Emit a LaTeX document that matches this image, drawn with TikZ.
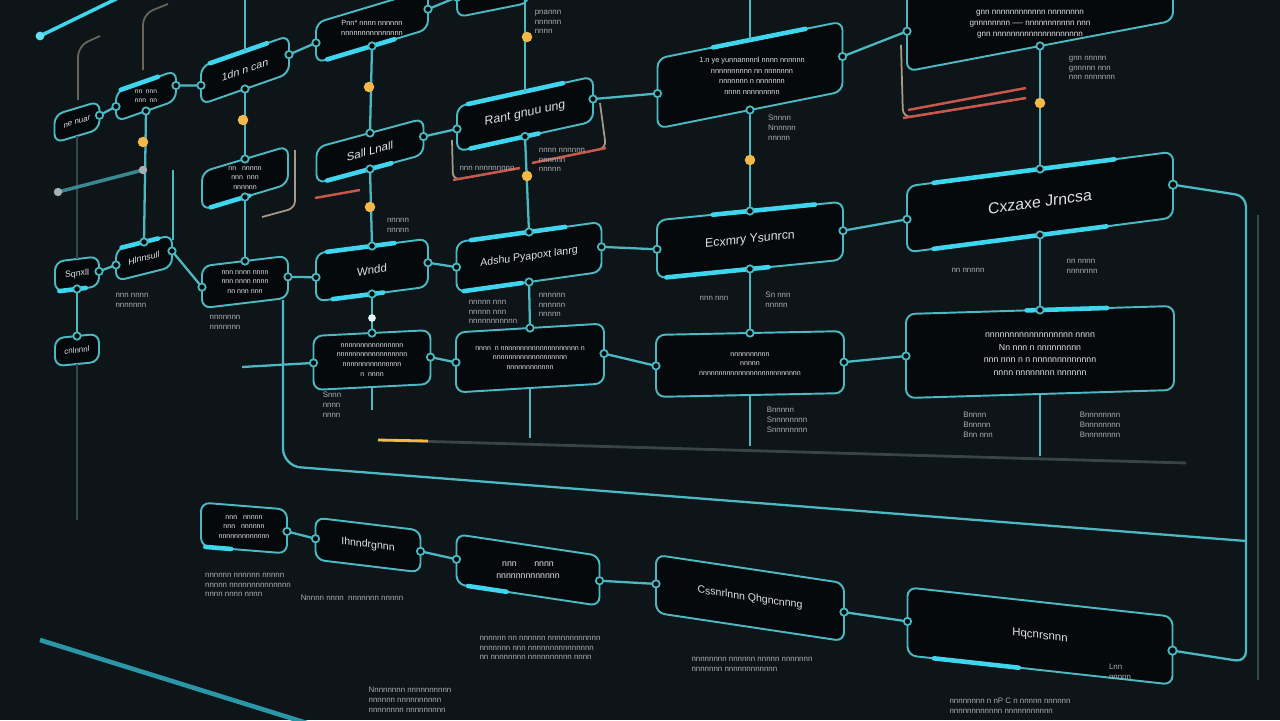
\documentclass[tikz,border=0pt]{standalone}
\usepackage{fontspec}
\setmainfont{Liberation Sans}
\usetikzlibrary{calc}
\definecolor{bgc}{HTML}{0D1518}
\definecolor{boxfill}{HTML}{06090B}
\definecolor{edgec}{HTML}{4CB8C2}
\definecolor{hlc}{HTML}{3ED6EE}
\definecolor{txtc}{HTML}{DCE2E4}
\definecolor{notec}{HTML}{A8B0B3}
\definecolor{orangec}{HTML}{F2B84A}
\definecolor{redc}{HTML}{C8584E}
\definecolor{palec}{HTML}{A89A88}
\definecolor{greyc}{HTML}{3A4448}
\definecolor{dimc}{HTML}{2E4A50}
\tikzset{
  box/.style={draw=edgec, line width=1.1pt, fill=boxfill, rounded corners=5pt,
    outer sep=0pt, inner sep=2pt, text=txtc, align=center},
  boxtext/.style={text=txtc, align=center, inner sep=1pt},
  conn/.style={draw=edgec, line width=1.3pt},
  hl/.style={draw=hlc, line width=2.6pt, line cap=round},
  dotc/.style={draw=edgec, line width=1pt, fill=boxfill},
  note/.style={text=notec, font=\fontsize{4.5}{5.6}\selectfont, align=left, inner sep=1pt},
  redl/.style={draw=redc, line width=1.4pt},
  palel/.style={draw=palec, line width=1pt},
  dimline/.style={draw=dimc, line width=1pt},
}
% box with slanted one-line label
\newcommand\bx[8]{\node[box, minimum width=#4*0.02cm, minimum height=#5*0.02cm, yslant=#6, font=#7] (#1) at (#2,#3) {#8};}
% box with upright multi-line text placed at a given point
\newcommand\bxt[9]{\node[box, minimum width=#4*0.02cm, minimum height=#5*0.02cm, yslant=#6] (#1) at (#2,#3) {};
  \node[boxtext, font=#7] (#1t) at (#8) {#9};}
\newcommand\hlb[4]{\draw[hl] ($(#1.#2 west)!#3!(#1.#2 east)$) -- ($(#1.#2 west)!#4!(#1.#2 east)$);}
\newcommand\cn[2]{\draw[conn] (#1) -- (#2); \draw[dotc] (#1) circle (2.1pt); \draw[dotc] (#2) circle (2.1pt);}
\newcommand\nt[4]{\node[note] (#1) at (#2,#3) {#4};}
\begin{document}
\begin{tikzpicture}[x=0.02cm,y=-0.02cm]
\useasboundingbox (0,0) rectangle (1280,720);
\clip (0,0) rectangle (1280,720);
\fill[bgc] (0,0) rectangle (1280,720);

% ---------- coordinates ----------
\coordinate (top) at (0,0);
\coordinate (R1) at (1246,196);
\coordinate (R2) at (1246,662);
\coordinate (L0) at (283,300);
\coordinate (L1) at (283,466);
\coordinate (L2) at (1246,541);
\coordinate (G0) at (378,440);
\coordinate (G0b) at (428,441);
\coordinate (G1) at (1186,463);
\coordinate (F1) at (1258,215);
\coordinate (F2) at (1258,680);
\coordinate (B1) at (40,640);
\coordinate (B2) at (310,724);
\coordinate (B3) at (40,36);
\coordinate (B4) at (118,-2);

% ---------- long background lines ----------
\draw[draw=greyc, line width=1.6pt] (G0) -- (G1);
\draw[draw=orangec, line width=1.6pt] (G0) -- (G0b);
\draw[conn, rounded corners=10pt] (L0) -- (L1) -- (L2);
\draw[dimline] (F1) -- (F2);
\draw[draw=hlc!70!black, line width=2.6pt] (B1) -- (B2);
\draw[draw=hlc, line width=2pt] (B3) -- (B4);
\fill[hlc!80!white] (B3) circle (2.5pt);

% ---------- boxes: top row ----------
\bx{T1}{77}{122}{45}{28}{0.3}{\fontsize{4.5}{5}\selectfont}{ne nuar}
\bxt{T2}{146}{96}{60}{30}{0.35}{\fontsize{3.8}{5}\selectfont}{146,96}{nn\ \ nnn\\ nnn\ \ nn}
\bx{T3}{245}{70}{88}{38}{0.35}{\fontsize{6}{7}\selectfont}{1dn n can}
\bxt{T4}{372}{26}{112}{40}{0.3}{\fontsize{4.2}{5.6}\selectfont}{372,28}{Pnn* nnnn nnnnnn\\ nnnnnnnnnnnnnnn}
\bx{T5}{493}{-10}{72}{40}{0.2}{\tiny}{}
\bx{T6}{525}{114}{136}{45}{0.22}{\fontsize{7}{8}\selectfont}{Rant gnuu ung}
\bxt{T7}{750}{75}{185}{70}{0.2}{\fontsize{4.2}{6}\selectfont}{752,76}{1.n ye yunnannnnl nnnn nnnnnn\\ nnnnnnnnnn nn nnnnnnn\\ nnnnnnn n nnnnnnn\\ nnnn nnnnnnnnn}
\bxt{T8}{1040}{6}{266}{80}{0.19}{\fontsize{4.6}{6.2}\selectfont}{1030,24}{gnn nnnnnnnnnnnn nnnnnnnn\\ gnnnnnnnn ---- nnnnnnnnnnn nnn\\ gnn nnnnnnnnnnnnnnnnnnnn}
% ---------- second row ----------
\bxt{M1}{245}{178}{86}{38}{0.3}{\fontsize{4}{5.2}\selectfont}{245,178}{nn\ \ \ nnnnn\\ nnn\ \ nnn\\ nnnnnn}
\bx{M2}{370}{151}{107}{36}{0.27}{\fontsize{6.5}{7}\selectfont}{Sall Lnall}
\bx{M3}{1040}{202}{266}{66}{0.13}{\fontsize{9}{10}\selectfont}{Cxzaxe Jrncsa}
\bx{M4}{750}{240}{186}{58}{0.1}{\fontsize{7}{8}\selectfont}{Ecxmry Ysunrcn}
\bx{M5}{529}{257}{145}{50}{0.14}{\fontsize{6}{7}\selectfont}{Adshu Pyapoxt lanrg}
\bx{M6}{372}{270}{112}{48}{0.13}{\fontsize{6.5}{7}\selectfont}{Wndd}
\bxt{M7}{245}{282}{86}{42}{0.12}{\fontsize{4}{5.2}\selectfont}{245,282}{nnn nnnn nnnn\\ nnn nnnn nnnn\\ nn nnn nnn}
\bx{M8}{144}{258}{56}{32}{0.25}{\fontsize{5}{6}\selectfont}{Hlnnsull}
\bx{M9}{77}{274}{44}{30}{0.12}{\fontsize{5}{6}\selectfont}{Sqnxll}
\bx{M10}{77}{350}{44}{28}{0.1}{\fontsize{4.5}{5}\selectfont}{cnlnnnl}
% ---------- third row ----------
\bxt{C1}{372}{360}{117}{54}{0.05}{\fontsize{4}{5.6}\selectfont}{372,360}{nnnnnnnnnnnnnnnn\\ nnnnnnnnnnnnnnnnnn\\ nnnnnnnnnnnnnnn\\ n\ \ nnnn}
\bxt{C2}{530}{358}{148}{60}{0.06}{\fontsize{4}{5.6}\selectfont}{530,358}{nnnn\ \ n nnnnnnnnnnnnnnnnnnnn\ n\\ nnnnnnnnnnnnnnnnnnn\\ nnnnnnnnnnnn}
\bxt{C3}{750}{364}{188}{62}{0.02}{\fontsize{4}{5.6}\selectfont}{750,364}{nnnnnnnnnn\\ nnnnn\\ nnnnnnnnnnnnnnnnnnnnnnnnnn}
\bxt{C4}{1040}{352}{268}{84}{0.03}{\fontsize{5}{7.2}\selectfont}{1040,354}{nnnnnnnnnnnnnnnnnn nnnn\\ Nn nnn n nnnnnnnnn\\ nnn nnn n n nnnnnnnnnnnnn\\ nnnn nnnnnnnn nnnnnn}
% ---------- bottom row ----------
\bxt{D1}{244}{528}{86}{44}{-0.08}{\fontsize{4}{5.2}\selectfont}{244,527}{nnn\ \ \ nnnnn\\ nnn\ \ \ nnnnnn\\ nnnnnnnnnnnnn}
\bx{D2}{368}{545}{105}{42}{-0.12}{\fontsize{6}{7}\selectfont}{Ihnndrgnnn}
\bxt{D3}{528}{570}{143}{50}{-0.15}{\fontsize{5}{6.8}\selectfont}{528,570}{nnn\qquad nnnn\\ nnnnnnnnnnnnn}
\bx{D4}{750}{598}{188}{58}{-0.15}{\fontsize{6}{7}\selectfont}{Cssnrlnnn Qhgncnnng}
\bx{D5}{1040}{636}{265}{68}{-0.11}{\fontsize{6.5}{7.5}\selectfont}{Hqcnrsnnn}

% ---------- highlights ----------
\hlb{T2}{north}{0.08}{0.7}
\hlb{T3}{north}{0.1}{0.75}
\hlb{T4}{south}{0.1}{0.7}
\hlb{T6}{north}{0.08}{0.78}
\hlb{T6}{south}{0.1}{0.6}
\hlb{T7}{north}{0.3}{0.8}
\hlb{M2}{south}{0.1}{0.7}
\hlb{M1}{south}{0.1}{0.55}
\hlb{M3}{north}{0.1}{0.78}
\hlb{M3}{south}{0.1}{0.75}
\hlb{M4}{north}{0.3}{0.85}
\hlb{M4}{south}{0.05}{0.6}
\hlb{M5}{north}{0.1}{0.75}
\hlb{M5}{south}{0.05}{0.45}
\hlb{M6}{north}{0.1}{0.7}
\hlb{M6}{south}{0.15}{0.6}
\hlb{M8}{north}{0.1}{0.75}
\hlb{M9}{south}{0.1}{0.7}
\hlb{C4}{north}{0.45}{0.75}
\hlb{D1}{south}{0.05}{0.35}
\hlb{D3}{south}{0.08}{0.35}
\hlb{D5}{south}{0.1}{0.42}

% ---------- horizontal connectors ----------
\cn{T1.east}{T2.west}
\cn{T2.east}{T3.west}
\cn{T3.east}{T4.west}
\cn{T4.east}{T5.west}
\cn{M2.east}{T6.west}
\cn{T6.east}{T7.west}
\cn{T7.east}{T8.west}
\cn{M9.east}{M8.west}
\cn{M8.east}{M7.west}
\cn{M7.east}{M6.west}
\cn{M6.east}{M5.west}
\cn{M5.east}{M4.west}
\cn{M4.east}{M3.west}
\cn{C1.east}{C2.west}
\cn{C2.east}{C3.west}
\cn{C3.east}{C4.west}
\cn{D1.east}{D2.west}
\cn{D2.east}{D3.west}
\cn{D3.east}{D4.west}
\cn{D4.east}{D5.west}
\draw[conn, rounded corners=6pt] (M3.east) -- (R1) -- (R2) -- (D5.east);
\draw[dotc] (M3.east) circle (2.4pt);
\draw[dotc] (D5.east) circle (2.4pt);
\coordinate (C1in) at (242,367);
\draw[conn] (C1in) -- (C1.west);
\draw[dotc] (C1.west) circle (2.1pt);

% ---------- vertical connectors ----------
\coordinate (E1) at (530,438);
\coordinate (E2) at (750,446);
\coordinate (E3) at (1040,456);
\coordinate (E4) at (372,410);
\draw[conn] (T6.north |- top) -- (T6.north);
\cn{T6.south}{M5.north}
\cn{M5.south}{C2.north}
\draw[conn] (C2.south) -- (E1);
\draw[conn] (T7.north |- top) -- (T7.north);
\cn{T7.south}{M4.north}
\cn{M4.south}{C3.north}
\draw[conn] (C3.south) -- (E2);
\cn{T8.south}{M3.north}
\cn{M3.south}{C4.north}
\draw[conn] (C4.south) -- (E3);
\draw[conn] (T3.north |- top) -- (T3.north);
\cn{T3.south}{M1.north}
\cn{M1.south}{M7.north}
\cn{T4.south}{M2.north}
\cn{M2.south}{M6.north}
\cn{M6.south}{C1.north}
\draw[conn] (C1.south) -- (E4);
\cn{T2.south}{M8.north}
\draw[dimline] (T1.south) -- (M9.north);
\cn{M9.south}{M10.north}
\coordinate (E5) at (77,520);
\draw[dimline] (M10.south) -- (E5);

% ---------- orange markers ----------
\foreach \p in {(527,37),(527,176),(750,160),(1040,103),(243,120),(369,87),(370,207),(143,142)}
  \fill[orangec] \p circle (3pt);
\fill[white!85!edgec] (372,318) circle (2.2pt);

% ---------- pale / red frames ----------
\coordinate (P1) at (600,103);
\coordinate (P2) at (606,148);
\coordinate (P3) at (532,163);
\coordinate (P4) at (452,140);
\coordinate (P5) at (453,180);
\coordinate (P6) at (520,168);
\draw[palel, rounded corners=4pt] (P1) -- (P2) -- (P3);
\draw[redl] (P2) -- (P3);
\draw[palel, rounded corners=4pt] (P4) -- (P5) -- (P6);
\draw[redl] (P5) -- (P6);
\coordinate (Q1) at (901,45);
\coordinate (Q2) at (903,118);
\coordinate (Q3) at (1026,98);
\coordinate (Q4) at (1026,88);
\coordinate (Q5) at (908,110);
\draw[palel, rounded corners=5pt] (Q1) -- (Q2) -- (Q3);
\draw[redl] (Q2) -- (Q3);
\draw[redl] (Q5) -- (Q4);
\coordinate (S1) at (295,150);
\coordinate (S2) at (295,208);
\coordinate (S3) at (262,217);
\draw[palel, rounded corners=4pt] (S1) -- (S2) -- (S3);
\coordinate (S4) at (315,198);
\coordinate (S5) at (360,190);
\draw[redl] (S4) -- (S5);
\coordinate (H1) at (78,100);
\coordinate (H2) at (78,46);
\coordinate (H3) at (100,36);
\draw[palel, draw=palec!60!bgc, rounded corners=6pt] (H1) -- (H2) -- (H3);
\coordinate (H4) at (143,70);
\coordinate (H5) at (143,14);
\coordinate (H6) at (168,4);
\draw[palel, draw=palec!60!bgc, rounded corners=6pt] (H4) -- (H5) -- (H6);
\coordinate (K1) at (58,192);
\coordinate (K2) at (143,170);
\coordinate (K3) at (173,240);
\draw[conn, draw=edgec!70!bgc, line width=2pt] (K1) -- (K2);
\fill[notec] (K1) circle (2.4pt);
\fill[notec] (K2) circle (2.4pt);
\draw[conn] (K2 -| K3) -- (K3);

% ---------- side notes ----------
\nt{n1}{548}{22}{pnannn\\ nnnnnn\\ nnnn}
\nt{n2}{487}{168}{nnn nnnnnnnnn}
\nt{n3}{562}{160}{nnnn nnnnnn\\ nnnnnn\\ nnnnn}
\nt{n4}{782}{128}{Snnnn\\ Nnnnnn\\ nnnnn}
\nt{n5}{1092}{68}{gnn nnnnn\\ gnnnnn nnn\\ nnn nnnnnnn}
\nt{n6}{968}{270}{nn nnnnn}
\nt{n7}{1082}{266}{nn nnnn\\ nnnnnnn}
\nt{n8}{714}{298}{nnn nnn}
\nt{n9}{778}{300}{Sn nnn\\ nnnnn}
\nt{n10}{493}{312}{nnnnn nnn\\ nnnnn nnn\\ nnnnnnnnnnn}
\nt{n11}{552}{305}{nnnnnn\\ nnnnnn\\ nnnnn}
\nt{n12}{787}{420}{Bnnnnn\\ Snnnnnnnn\\ Snnnnnnnn}
\nt{n13}{978}{425}{Bnnnn\\ Bnnnnn\\ Bnn nnn}
\nt{n14}{1100}{425}{Bnnnnnnnn\\ Bnnnnnnnn\\ Bnnnnnnnn}
\nt{n15}{332}{405}{Snnn\\ nnnn\\ nnnn}
\nt{n16}{248}{585}{nnnnnn nnnnnn nnnnn\\ nnnnn nnnnnnnnnnnnnn\\ nnnn nnnn nnnn}
\nt{n17}{352}{598}{Nnnnn nnnn\ \ nnnnnnn nnnnn}
\nt{n18}{540}{648}{nnnnnn nn nnnnnn nnnnnnnnnnnn\\ nnnnnnn nnn nnnnnnnnnnnnnnn\\ nn nnnnnnnn nnnnnnnnnn nnnn}
\nt{n19}{752}{664}{nnnnnnnn nnnnnn nnnnn nnnnnnn\\ nnnnnnn nnnnnnnnnnnn}
\nt{n20}{1010}{706}{nnnnnnnn n nP C n nnnnn nnnnnn\\ nnnnnnnnnnnn nnnnnnnnnnn}
\nt{n21}{410}{700}{Nnnnnnnn nnnnnnnnnn\\ nnnnnn nnnnnnnnnn\\ nnnnnnnn nnnnnnnnn}
\nt{n22}{132}{300}{nnn nnnn\\ nnnnnnn}
\nt{n23}{225}{322}{nnnnnnn\\ nnnnnnn}
\nt{n24}{398}{225}{nnnnn\\ nnnnn}
\nt{n25}{1120}{672}{Lnn\\ nnnnn}
\end{tikzpicture}
\end{document}
